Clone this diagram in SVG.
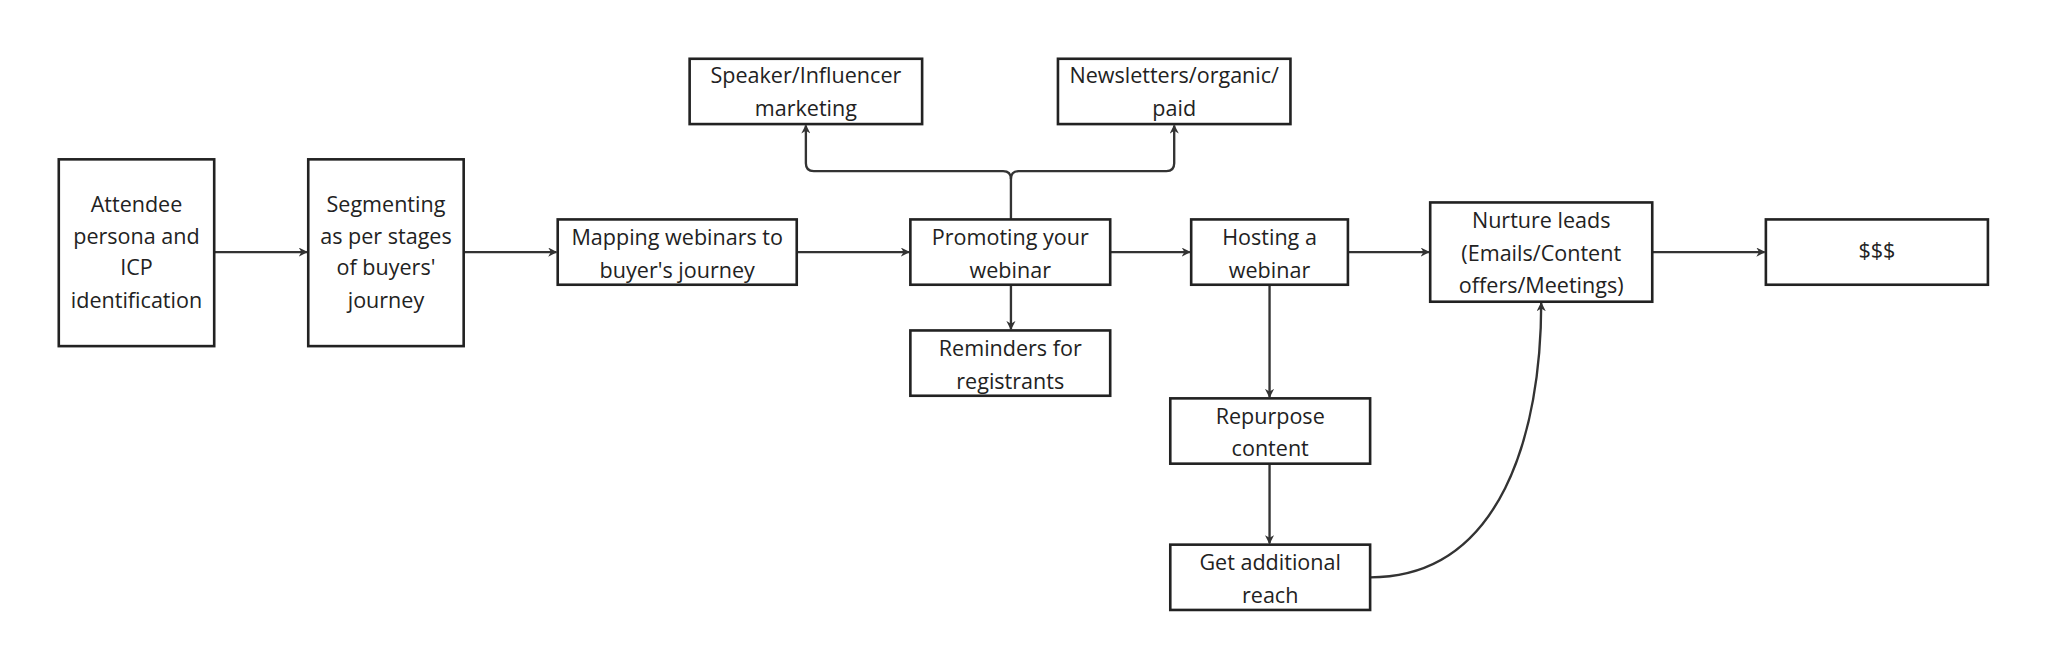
<svg xmlns="http://www.w3.org/2000/svg" width="2048" height="670" viewBox="0 0 2048 670">
<style>
.n rect{fill:#fff;stroke:#222;stroke-width:2}
text{font-family:"Open Sans","Noto Sans",sans-serif;font-size:16.5px;fill:#222;text-anchor:middle;dominant-baseline:central}
.c path{fill:none;stroke:#333;stroke-width:1.8}
</style>
<defs><marker id="a" viewBox="0 0 10 10" refX="9" refY="5" markerWidth="7" markerHeight="7" orient="auto" markerUnits="userSpaceOnUse"><path d="M0,0 L10,5 L0,10 L3,5 Z" fill="#333"/></marker></defs>
<rect width="2048" height="670" fill="#fff"/>
<g transform="scale(1.30612)">
<g class="c" marker-end="url(#a)">
<path d="M164,193H235" marker-end="url(#a)"/>
<path d="M355,193H426" marker-end="url(#a)"/>
<path d="M610,193H696" marker-end="url(#a)"/>
<path d="M850,193H911" marker-end="url(#a)"/>
<path d="M1032,193H1094" marker-end="url(#a)"/>
<path d="M1265,193H1351" marker-end="url(#a)"/>
<path d="M774,168V137Q774,131 768,131H623Q617,131 617,125V96" marker-end="url(#a)"/>
<path d="M774,137Q774,131 780,131H893Q899,131 899,125V96" marker-end="url(#a)"/>
<path d="M774,218V252" marker-end="url(#a)"/>
<path d="M972,218V304" marker-end="url(#a)"/>
<path d="M972,355V416" marker-end="url(#a)"/>
<path d="M1049,442C1150,442 1180,330 1180,232" marker-end="url(#a)"/>
</g>
<g id="attendee" class="n"><rect x="45" y="122" width="119" height="143"/><text x="104.5" y="156">Attendee</text><text x="104.5" y="180">persona and</text><text x="104.5" y="204">ICP</text><text x="104.5" y="229">identification</text></g>
<g id="segmenting" class="n"><rect x="236" y="122" width="119" height="143"/><text x="295.5" y="156">Segmenting</text><text x="295.5" y="180">as per stages</text><text x="295.5" y="204">of buyers'</text><text x="295.5" y="229">journey</text></g>
<g id="mapping" class="n"><rect x="427" y="168" width="183" height="50"/><text x="518.5" y="181">Mapping webinars to</text><text x="518.5" y="206">buyer's journey</text></g>
<g id="promoting" class="n"><rect x="697" y="168" width="153" height="50"/><text x="773.5" y="181">Promoting your</text><text x="773.5" y="206">webinar</text></g>
<g id="hosting" class="n"><rect x="912" y="168" width="120" height="50"/><text x="972" y="181">Hosting a</text><text x="972" y="206">webinar</text></g>
<g id="nurture" class="n"><rect x="1095" y="155" width="170" height="76"/><text x="1180" y="168">Nurture leads</text><text x="1180" y="193">(Emails/Content</text><text x="1180" y="218">offers/Meetings)</text></g>
<g id="money" class="n"><rect x="1352" y="168" width="170" height="50"/><text x="1437" y="191">$$$</text></g>
<g id="speaker" class="n"><rect x="528" y="45" width="178" height="50"/><text x="617" y="57">Speaker/Influencer</text><text x="617" y="82">marketing</text></g>
<g id="newsletters" class="n"><rect x="810" y="45" width="178" height="50"/><text x="899" y="57">Newsletters/organic/</text><text x="899" y="82">paid</text></g>
<g id="reminders" class="n"><rect x="697" y="253" width="153" height="50"/><text x="773.5" y="266">Reminders for</text><text x="773.5" y="291">registrants</text></g>
<g id="repurpose" class="n"><rect x="896" y="305" width="153" height="50"/><text x="972.5" y="318">Repurpose</text><text x="972.5" y="343">content</text></g>
<g id="reach" class="n"><rect x="896" y="417" width="153" height="50"/><text x="972.5" y="430">Get additional</text><text x="972.5" y="455">reach</text></g>
</g>
</svg>
